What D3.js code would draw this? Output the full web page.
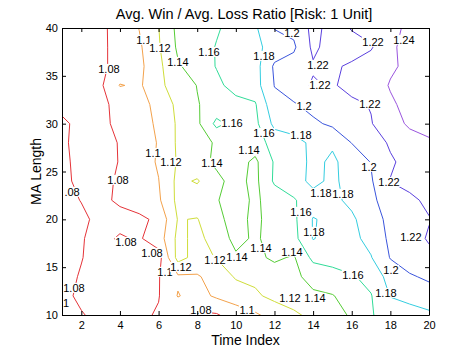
<!DOCTYPE html>
<html><head><meta charset="utf-8">
<script src="https://cdn.jsdelivr.net/npm/d3@7"></script>
<style>
body{margin:0;background:#fff;}
text{font-family:"Liberation Sans",Arial,Helvetica,sans-serif;fill:#000;}
</style>
</head><body>
<svg id="chart" width="474" height="355"></svg>
<script>
// ---- data ----
const timeIndex = d3.range(1, 21);            // x grid: 1..20
const maLength = d3.range(10, 41, 2);         // y grid: 10..40 step 2
const z10 = [1.087,1.081,1.076,1.075,1.076,1.082,1.085,1.077,1.078,1.090,1.097,1.108,1.116,1.126,1.134,1.142,1.159,1.166,1.172,1.176];
const z12 = [1.084,1.077,1.075,1.074,1.075,1.079,1.101,1.093,1.103,1.109,1.117,1.125,1.131,1.137,1.139,1.148,1.159,1.181,1.186,1.192];
const z14 = [1.084,1.079,1.075,1.074,1.076,1.079,1.097,1.098,1.108,1.122,1.124,1.131,1.136,1.146,1.152,1.158,1.166,1.188,1.198,1.203];
const z16 = [1.086,1.0805,1.075,1.077,1.074,1.072,1.127,1.113,1.121,1.137,1.136,1.143,1.138,1.165,1.168,1.172,1.179,1.201,1.209,1.215];
const z18 = [1.086,1.081,1.075,1.082,1.078,1.090,1.125,1.115,1.128,1.146,1.137,1.148,1.154,1.181,1.172,1.175,1.186,1.204,1.212,1.222];
const z20 = [1.087,1.083,1.076,1.074,1.075,1.085,1.121,1.119,1.136,1.146,1.136,1.148,1.156,1.181,1.176,1.177,1.190,1.206,1.213,1.219];
const z22 = [1.085,1.0795,1.076,1.083,1.092,1.097,1.125,1.132,1.139,1.147,1.137,1.148,1.158,1.172,1.176,1.184,1.197,1.207,1.216,1.224];
const z24 = [1.083,1.077,1.076,1.082,1.091,1.0995,1.125,1.118,1.136,1.146,1.135,1.163,1.172,1.185,1.176,1.188,1.198,1.2205,1.226,1.230];
const z26 = [1.083,1.076,1.076,1.0805,1.091,1.102,1.122,1.134,1.143,1.148,1.136,1.162,1.174,1.183,1.178,1.185,1.201,1.218,1.225,1.232];
const z28 = [1.082,1.076,1.077,1.0805,1.092,1.101,1.123,1.133,1.142,1.146,1.150,1.168,1.175,1.183,1.1815,1.2005,1.212,1.222,1.232,1.238];
const z30 = [1.082,1.077,1.078,1.082,1.095,1.102,1.123,1.136,1.165,1.153,1.155,1.185,1.187,1.196,1.204,1.212,1.219,1.232,1.243,1.245];
const z32 = [1.077,1.074,1.077,1.084,1.094,1.105,1.125,1.139,1.147,1.153,1.158,1.195,1.198,1.207,1.212,1.216,1.221,1.238,1.244,1.245];
const z34 = [1.069,1.073,1.077,1.101,1.097,1.115,1.130,1.1405,1.155,1.168,1.172,1.2005,1.212,1.222,1.218,1.226,1.233,1.241,1.244,1.246];
const z36 = [1.068,1.071,1.076,1.087,1.095,1.115,1.138,1.148,1.161,1.168,1.172,1.203,1.208,1.218,1.218,1.222,1.230,1.238,1.243,1.245];
const z38 = [1.068,1.071,1.076,1.087,1.097,1.118,1.143,1.151,1.161,1.166,1.175,1.188,1.197,1.224,1.212,1.214,1.218,1.238,1.244,1.246];
const z40 = [1.070,1.072,1.076,1.0875,1.1005,1.1195,1.145,1.150,1.158,1.167,1.177,1.201,1.205,1.225,1.214,1.221,1.228,1.236,1.243,1.247];
const levels = [1.08,1.10,1.12,1.14,1.16,1.18,1.20,1.22,1.24];
const xTicks = [2,4,6,8,10,12,14,16,18,20];
const yTicks = [10,15,20,25,30,35,40];
const labelText = ["1.1","1.12","1.14","1.16","1.08","1.18","1.2","1.22","1.22","1.22","1.24","1.2","1.22","1.16","1.16","1.18","1.1","1.12","1.14","1.14","1.2","1.08",".08","1.08","1","1.08","1.08","1.1","1.12","1.12","1.14","1.08","1.1","1.14","1.14","1.12","1.14","1.16","1.18","1.18","1.18","1.16","1.18","1.2","1.22","1.22"];
const labelX = [5.24,6.07,7.00,8.61,3.43,11.46,12.90,14.25,14.35,17.10,18.70,13.53,16.94,9.80,11.46,13.37,5.71,6.64,8.76,10.68,16.89,3.90,1.52,1.62,1.21,4.31,5.66,6.33,7.16,8.92,10.06,8.19,10.58,11.30,12.90,12.80,14.10,13.37,14.04,14.41,15.54,16.06,17.77,18.03,17.93,19.06];
const labelY = [38.75,37.91,36.45,37.49,35.71,37.07,39.48,36.13,34.04,38.54,38.75,31.85,32.06,30.07,29.02,28.82,26.93,25.99,25.89,27.25,25.47,24.11,22.86,12.82,11.26,17.63,16.48,14.50,15.02,15.75,16.06,10.52,10.52,17.00,16.59,11.78,11.78,20.77,18.68,22.75,22.65,14.18,12.30,14.70,23.90,18.15];

// ---- styles ----
const levelColors = ["#e53338","#f3a24c","#cfdd3a","#55cc35","#30dc98","#34cde0","#3a55dc","#5a40de","#9a55de"];
const W = 474, H = 355;
const m = {left: 62, right: 45, top: 28, bottom: 40};

const svg = d3.select("#chart");
const x = d3.scaleLinear().domain([1, 20]).range([m.left, W - m.right]);
const y = d3.scaleLinear().domain([10, 40]).range([H - m.bottom, m.top]);

const grid = [z10,z12,z14,z16,z18,z20,z22,z24,z26,z28,z30,z32,z34,z36,z38,z40];
const values = grid.flat();
const nx = timeIndex.length, ny = maLength.length;
const dxStep = timeIndex[1] - timeIndex[0], dyStep = maLength[1] - maLength[0];
const contours = d3.contours().size([nx, ny]).thresholds(levels)(values);

const proj = d3.geoTransform({
  point: function(px, py) {
    this.stream.point(x(timeIndex[0] + (px - 0.5) * dxStep), y(maLength[0] + (py - 0.5) * dyStep));
  }
});
const path = d3.geoPath(proj);

svg.append("defs").append("clipPath").attr("id", "clip")
  .append("rect").attr("x", x(1)).attr("y", y(40)).attr("width", x(20) - x(1)).attr("height", y(10) - y(40));

svg.append("g").attr("clip-path", "url(#clip)")
  .selectAll("path").data(contours).join("path")
  .attr("d", path)
  .attr("fill", "none")
  .attr("stroke", (d, i) => levelColors[i])
  .attr("stroke-width", 1);

// ---- contour labels ----
const lg = svg.append("g");
labelText.forEach((t, i) => {
  const g = lg.append("g");
  const r = g.append("rect").attr("fill", "#fff");
  const tx = g.append("text").attr("x", x(labelX[i])).attr("y", y(labelY[i]))
    .attr("text-anchor", "middle").attr("dy", "0.35em").attr("font-size", 11).text(t);
  const b = tx.node().getBBox();
  r.attr("x", b.x - 0.5).attr("y", b.y + 1).attr("width", b.width + 1).attr("height", b.height - 2);
});

// ---- axes ----
function styleAxis(g) {
  g.selectAll("path.domain").attr("stroke", "#000");
  g.selectAll(".tick line").attr("stroke", "#000");
  g.selectAll(".tick text").attr("font-size", 11).attr("fill", "#000")
    .attr("font-family", '"Liberation Sans",Arial,Helvetica,sans-serif');
}
svg.append("g").attr("transform", `translate(0,${y(10)})`)
  .call(d3.axisBottom(x).tickValues(xTicks).tickSizeInner(-4).tickSizeOuter(0).tickPadding(6)).call(styleAxis);
svg.append("g").attr("transform", `translate(0,${y(40)})`)
  .call(d3.axisTop(x).tickValues(xTicks).tickSizeInner(-4).tickSizeOuter(0).tickFormat("")).call(styleAxis);
svg.append("g").attr("transform", `translate(${x(1)},0)`)
  .call(d3.axisLeft(y).tickValues(yTicks).tickSizeInner(-4).tickSizeOuter(0).tickPadding(4)).call(styleAxis);
svg.append("g").attr("transform", `translate(${x(20)},0)`)
  .call(d3.axisRight(y).tickValues(yTicks).tickSizeInner(-4).tickSizeOuter(0).tickFormat("")).call(styleAxis);

// ---- titles ----
svg.append("text").attr("x", 244).attr("y", 19).attr("text-anchor", "middle")
  .attr("font-size", 14.5).text("Avg. Win / Avg. Loss Ratio [Risk: 1 Unit]");
svg.append("text").attr("x", (x(1) + x(20)) / 2).attr("y", 345).attr("text-anchor", "middle")
  .attr("font-size", 14).text("Time Index");
svg.append("text").attr("transform", `translate(41,${(y(10) + y(40)) / 2}) rotate(-90)`)
  .attr("text-anchor", "middle").attr("font-size", 14).text("MA Length");
</script>
</body></html>
